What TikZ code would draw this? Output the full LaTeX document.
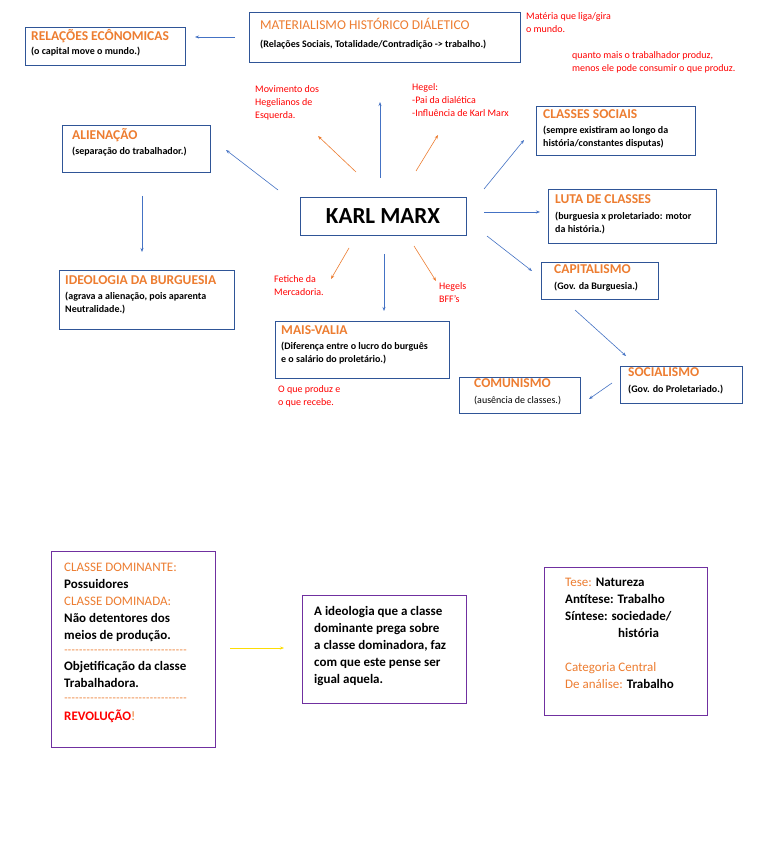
\documentclass[tikz,border=0pt]{standalone}
\usepackage{fontspec}
\setmainfont{Carlito}
\usetikzlibrary{arrows.meta}
\definecolor{or}{HTML}{ED7D31}
\definecolor{bx}{HTML}{2F5597}
\definecolor{ar}{HTML}{4472C4}
\definecolor{pu}{HTML}{7030A0}
\definecolor{rd}{HTML}{FF0000}
\newcommand{\ttl}[1]{{\fontsize{13.5}{15}\selectfont\color{or}#1}}
\newcommand{\dashes}{{\color{or}\mdseries\fontsize{11}{10}\selectfont\xleaders\hbox{-\kern0.3pt}\hskip 123pt}}
\tikzset{
 bbox/.style={draw=bx,line width=1.3pt,anchor=north west,inner sep=0pt},
 pbox/.style={draw=pu,line width=1.3pt,anchor=north west,inner sep=0pt},
 lbl/.style={anchor=north west,inner sep=0pt,align=left,font=\fontsize{10}{13}\selectfont\bfseries},
 blu/.style={draw=ar,-{Stealth[length=4pt,width=3pt]},line width=0.6pt},
 ora/.style={draw=or,-{Stealth[length=4pt,width=3pt]},line width=0.6pt},
 note/.style={text=rd,font=\fontsize{10}{13}\selectfont,anchor=north west,align=left,inner sep=0pt},
 btext/.style={font=\fontsize{13}{17}\selectfont\bfseries,align=left,anchor=north west,inner sep=0pt}
}
\begin{document}
\begin{tikzpicture}[x=1pt,y=-1pt]
\useasboundingbox (0,0) rectangle (768,866);
\fill[white] (0,0) rectangle (768,866);
% boxes
\node[bbox,minimum width=160pt,minimum height=38pt] (rel) at (25,27) {};
\node[lbl] (trel) at (31,29) {\ttl{RELAÇÕES ECÔNOMICAS}\\[1pt](o capital move o mundo.)};
\node[bbox,minimum width=271pt,minimum height=50pt] (mat) at (249,12) {};
\node[lbl] (tmat) at (260,18) {\ttl{\mdseries MATERIALISMO HISTÓRICO DIÁLETICO}\\[5pt](Relações Sociais, Totalidade/Contradição -> trabalho.)};
\node[bbox,minimum width=148pt,minimum height=47pt] (ali) at (62,125) {};
\node[lbl] (tali) at (72,128) {\ttl{ALIENAÇÃO}\\[2pt](separação do trabalhador.)};
\node[bbox,minimum width=166pt,minimum height=38pt,line width=1pt] (km) at (300,197) {};
\node[font=\fontsize{23}{24}\selectfont\bfseries] (tkm) at (383,216) {KARL MARX};
\node[bbox,minimum width=159pt,minimum height=49pt] (cs) at (536,106) {};
\node[lbl] (tcs) at (543,109) {\ttl{CLASSES SOCIAIS}\\[2pt](sempre existiram ao longo da\\história/constantes disputas)};
\node[bbox,minimum width=168pt,minimum height=54pt] (luta) at (548,189) {};
\node[lbl] (tluta) at (555,194) {\ttl{LUTA DE CLASSES}\\[3pt](burguesia x proletariado: motor\\da história.)};
\node[bbox,minimum width=117pt,minimum height=37pt] (cap) at (541,262) {};
\node[lbl] (tcap) at (554,264) {\ttl{CAPITALISMO}\\[3pt](Gov. da Burguesia.)};
\node[bbox,minimum width=175pt,minimum height=59pt] (ide) at (59,270) {};
\node[lbl] (tide) at (65,275) {\ttl{IDEOLOGIA DA BURGUESIA}\\[2pt](agrava a alienação, pois aparenta\\Neutralidade.)};
\node[bbox,minimum width=174pt,minimum height=57pt] (mv) at (275,321) {};
\node[lbl] (tmv) at (281,325) {\ttl{MAIS-VALIA}\\[2pt](Diferença entre o lucro do burguês\\e o salário do proletário.)};
\node[bbox,minimum width=122pt,minimum height=37pt] (soc) at (620,366) {};
\node[lbl] (tsoc) at (628,367) {\ttl{SOCIALISMO}\\[3pt](Gov. do Proletariado.)};
\node[bbox,minimum width=121pt,minimum height=36pt] (com) at (459,377) {};
\node[lbl,font=\fontsize{10}{13}\selectfont] (tcom) at (474,378) {\ttl{\bfseries COMUNISMO}\\[3pt](ausência de classes.)};
% notes
\node[note] (n1) at (526,12) {Matéria que liga/gira\\o mundo.};
\node[note] (n2) at (572,51) {quanto mais o trabalhador produz,\\menos ele pode consumir o que produz.};
\node[note] (n3) at (255,85) {Movimento dos\\Hegelianos de\\Esquerda.};
\node[note] (n4) at (412,83) {Hegel:\\-Pai da dialética\\-Influência de Karl Marx};
\node[note] (n5) at (274,275) {Fetiche da\\Mercadoria.};
\node[note] (n6) at (439,282) {Hegels\\BFF’s};
\node[note] (n7) at (278,385) {O que produz e\\o que recebe.};
% arrows
\coordinate (a1) at (235,37); \coordinate (b1) at (195,37); \draw[blu] (a1) -- (b1);
\coordinate (k1) at (380,178); \coordinate (k1e) at (380,102); \draw[blu] (k1) -- (k1e);
\coordinate (k2) at (356,172); \coordinate (k2e) at (318,136); \draw[ora] (k2) -- (k2e);
\coordinate (k3) at (416,171); \coordinate (k3e) at (438,135); \draw[ora] (k3) -- (k3e);
\coordinate (k4) at (278,190); \coordinate (k4e) at (226,150); \draw[blu] (k4) -- (k4e);
\coordinate (k5) at (142,196); \coordinate (k5e) at (142,252); \draw[blu] (k5) -- (k5e);
\coordinate (k6) at (484,189); \coordinate (k6e) at (524,140); \draw[blu] (k6) -- (k6e);
\coordinate (k7) at (484,212); \coordinate (k7e) at (540,212); \draw[blu] (k7) -- (k7e);
\coordinate (k8) at (487,236); \coordinate (k8e) at (532,271); \draw[blu] (k8) -- (k8e);
\coordinate (k9) at (349,248); \coordinate (k9e) at (331,279); \draw[ora] (k9) -- (k9e);
\coordinate (k10) at (384,254); \coordinate (k10e) at (384,311); \draw[blu] (k10) -- (k10e);
\coordinate (k11) at (414,246); \coordinate (k11e) at (436,281); \draw[ora] (k11) -- (k11e);
\coordinate (k12) at (575,310); \coordinate (k12e) at (626,356); \draw[blu] (k12) -- (k12e);
\coordinate (k13) at (612,383); \coordinate (k13e) at (589,399); \draw[blu] (k13) -- (k13e);
% bottom
\node[pbox,minimum width=164pt,minimum height=196pt] (bl) at (51,551) {};
\node[btext] (tbl) at (64,563) {{\color{or}\mdseries CLASSE DOMINANTE:}\\Possuidores\\{\color{or}\mdseries CLASSE DOMINADA:}\\Não detentores dos\\meios de produção.\\[-3pt]\dashes\\[0pt]Objetificação da classe\\Trabalhadora.\\[-3pt]\dashes\\[2pt]{\color{rd}REVOLUÇÃO}{\color{or}\mdseries !}};
\node[pbox,minimum width=164pt,minimum height=108pt] (bm) at (302,595) {};
\node[btext] (tbm) at (314,606) {A ideologia que a classe\\dominante prega sobre\\a classe dominadora, faz\\com que este pense ser\\igual aquela.};
\node[pbox,minimum width=163pt,minimum height=148pt] (br) at (544,567) {};
\node[btext] (tbr) at (565,578) {{\color{or}\mdseries Tese:} Natureza\\Antítese: Trabalho\\Síntese: sociedade/\\\hspace{53pt}história\\[17pt]{\color{or}\mdseries Categoria Central}\\{\color{or}\mdseries De análise:} Trabalho};
\coordinate (y1) at (230,648); \coordinate (y2) at (284,648);
\draw[draw=yellow!80!orange,-{Stealth[length=4pt,width=3pt]},line width=0.6pt] (y1) -- (y2);
\end{tikzpicture}
\end{document}
